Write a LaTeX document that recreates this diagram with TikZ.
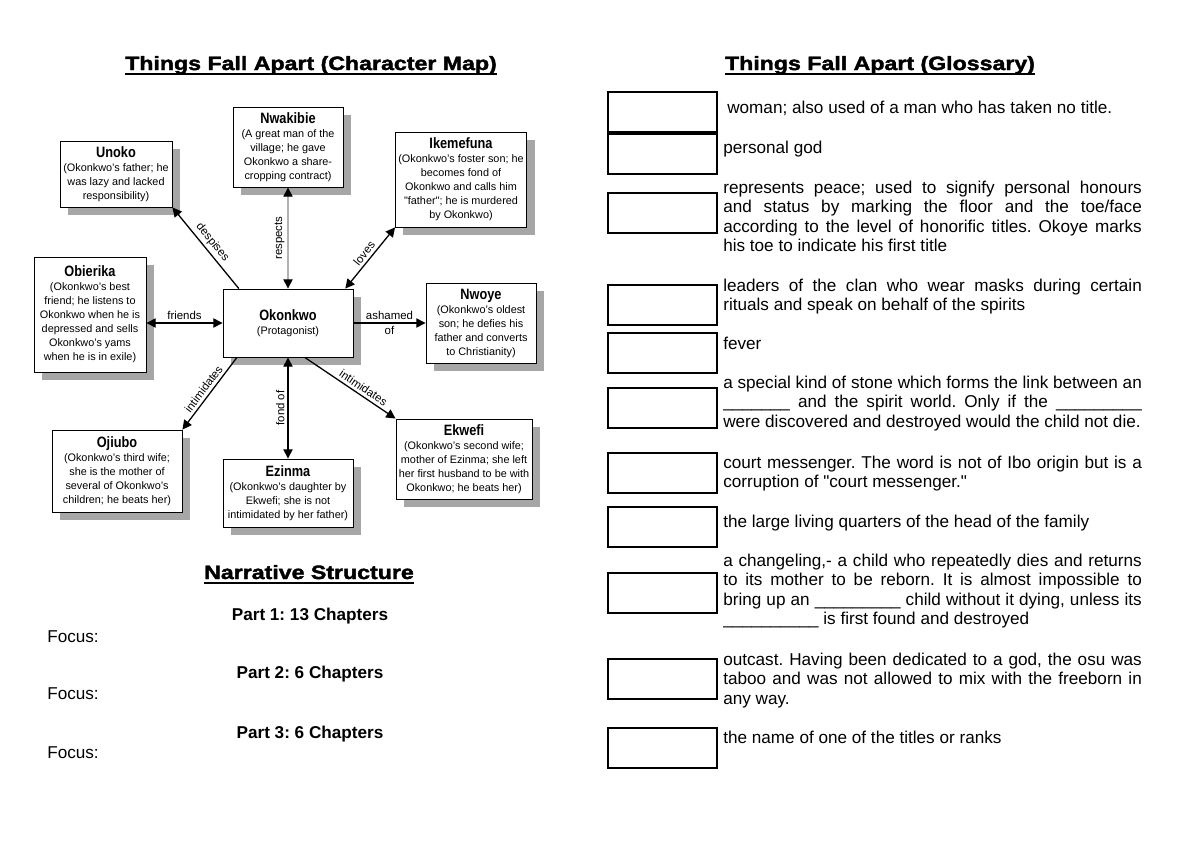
\documentclass[tikz,border=0pt]{standalone}
\usepackage{fontspec}
\setmainfont{Liberation Sans}
\newfontfamily\mapfont{Liberation Sans}
\newfontfamily\namefont[FakeStretch=0.85]{Liberation Sans}
\newfontfamily\headfont[FakeStretch=1.2,FakeBold=2]{Liberation Sans}
\usetikzlibrary{arrows.meta,positioning,calc,shadows}
\newcommand{\cname}[1]{{\namefont\bfseries\fontsize{10.5}{11}\selectfont #1}}
\hbadness=10000
\frenchspacing

\begin{document}
\begin{tikzpicture}[
    x=0.7pt, y=-0.7pt,
    charbox/.style={rectangle, draw, fill=white, line width=0.6pt, align=center, inner sep=2pt,
        font=\mapfont\fontsize{7.6}{9.8}\selectfont,
        drop shadow={shadow xshift=5.6pt, shadow yshift=-5.6pt, fill=black!35, opacity=1}},
    rel/.style={draw, line width=0.9pt, >={Triangle[length=6.5pt,width=6.5pt]}},
    rellabel/.style={font=\mapfont\fontsize{8}{9}\selectfont, midway, sloped, above, inner sep=2pt},
    blank/.style={rectangle, draw, line width=1.4pt, minimum width=76pt, minimum height=28pt},
    gloss/.style={anchor=base west, text width=293pt, align=justify, inner sep=0pt,
        font=\fontsize{12}{13.7}\selectfont},
    heading/.style={font=\headfont\bfseries\fontsize{13.5}{15}\selectfont, inner sep=0pt, anchor=base},
    part/.style={font=\bfseries\fontsize{12}{14}\selectfont, inner sep=0pt, anchor=base},
    focus/.style={font=\fontsize{12}{14}\selectfont, inner sep=0pt, anchor=base west}
]
\useasboundingbox (0,0) rectangle (1200,848);

% Character map (left side)
\node[heading] (maptitle) at (311,70) {Things Fall Apart (Character Map)};
\draw[line width=1.4pt] ([yshift=-2.8pt]maptitle.base west) -- ([yshift=-2.8pt]maptitle.base east);

\node[charbox, minimum width=78.4pt, minimum height=46.2pt] (unoko) at (116,174)
    {\cname{Unoko}\\(Okonkwo’s father; he\\was lazy and lacked\\responsibility)};
\node[charbox, minimum width=77pt, minimum height=56pt] (nwakibie) at (288,147)
    {\cname{Nwakibie}\\(A great man of the\\village; he gave\\Okonkwo a share-\\cropping contract)};
\node[charbox, minimum width=91pt, minimum height=66.5pt] (ikemefuna) at (461,179.5)
    {\cname{Ikemefuna}\\(Okonkwo’s foster son; he\\becomes fond of\\Okonkwo and calls him\\\textquotedbl father\textquotedbl; he is murdered\\by Okonkwo)};
\node[charbox, minimum width=78.4pt, minimum height=80.5pt] (obierika) at (90,314.5)
    {\cname{Obierika}\\(Okonkwo’s best\\friend; he listens to\\Okonkwo when he is\\depressed and sells\\Okonkwo’s yams\\when he is in exile)};
\node[charbox, minimum width=91pt, minimum height=47.6pt] (okonkwo) at (288,323)
    {\cname{Okonkwo}\\(Protagonist)};
\node[charbox, minimum width=77pt, minimum height=56pt] (nwoye) at (481,323)
    {\cname{Nwoye}\\(Okonkwo’s oldest\\son; he defies his\\father and converts\\to Christianity)};
\node[charbox, minimum width=91pt, minimum height=57.4pt] (ojiubo) at (117,471)
    {\cname{Ojiubo}\\(Okonkwo’s third wife;\\she is the mother of\\several of Okonkwo’s\\children; he beats her)};
\node[charbox, minimum width=91pt, minimum height=47.6pt] (ezinma) at (288,493)
    {\cname{Ezinma}\\(Okonkwo’s daughter by\\Ekwefi; she is not\\intimidated by her father)};
\node[charbox, minimum width=95.2pt, minimum height=56pt] (ekwefi) at (464,459)
    {\cname{Ekwefi}\\(Okonkwo’s second wife;\\mother of Ezinma; she left\\her first husband to be with\\Okonkwo; he beats her)};

% Relations
\draw[rel, ->] (okonkwo.145.8) -- (unoko.south east) node[rellabel] {despises};
\draw[rel, <->, draw=black!30, >={Triangle[length=6.5pt,width=6.5pt,black]}] (okonkwo.north) -- (nwakibie.south) node[rellabel] {respects};
\draw[rel, <->] (okonkwo.31.7) -- (ikemefuna.south west) node[rellabel] {loves};
\draw[rel, <->] (obierika.east |- okonkwo.west) -- (okonkwo.west) node[rellabel] {friends};
\draw[rel, ->] (okonkwo.east) -- (nwoye.west)
    node[rellabel] {ashamed} node[rellabel, above=false, below] {of};
\draw[rel, ->] (okonkwo.214.2) -- (ojiubo.north east) node[rellabel] {intimidates};
\draw[rel, <->] (ezinma.north) -- (okonkwo.south) node[rellabel] {fond of};
\draw[rel, ->] (okonkwo.296.6) -- (ekwefi.north west) node[rellabel, pos=0.6] {intimidates};

% Narrative structure
\node[heading] (narrtitle) at (309,579) {Narrative Structure};
\draw[line width=1.4pt] ([yshift=-2.8pt]narrtitle.base west) -- ([yshift=-2.8pt]narrtitle.base east);
\node[part] (part1) at (310,620) {Part 1: 13 Chapters};
\node[focus] (focus1) at (47,642) {Focus:};
\node[part] (part2) at (310,678) {Part 2: 6 Chapters};
\node[focus] (focus2) at (47,699) {Focus:};
\node[part] (part3) at (310,738) {Part 3: 6 Chapters};
\node[focus] (focus3) at (47,758) {Focus:};

% Glossary (right side)
\node[heading] (glosstitle) at (880,70) {Things Fall Apart (Glossary)};
\draw[line width=1.4pt] ([yshift=-2.8pt]glosstitle.base west) -- ([yshift=-2.8pt]glosstitle.base east);

\foreach \y [count=\i] in {112,153.5,213,304.5,353,407.5,473,527,593,678.5,747.5}
    \node[blank] (g\i) at (662.5,\y) {};

\node[gloss] (t1) at (727,113) {woman; also used of a man who has taken no title.};
\node[gloss] (t2) at (723,153) {personal god};
\node[gloss] (t3) at (723,193) {represents peace; used to signify personal honours\linebreak
    and status by marking the floor and the toe/face\linebreak
    according to the level of honorific titles. Okoye marks\linebreak
    his toe to indicate his first title};
\node[gloss] (t4) at (723,291) {leaders of the clan who wear masks during certain\linebreak
    rituals and speak on behalf of the spirits};
\node[gloss] (t5) at (723,349) {fever};
\node[gloss] (t6) at (723,388) {a special kind of stone which forms the link between an\linebreak
    \_\_\_\_\_\_\_ and the spirit world. Only if the \_\_\_\_\_\_\_\_\_\linebreak
    were discovered and destroyed would the child not die.};
\node[gloss] (t7) at (723,468) {court messenger. The word is not of Ibo origin but is a\linebreak
    corruption of \textquotedbl court messenger.\textquotedbl};
\node[gloss] (t8) at (723,527) {the large living quarters of the head of the family};
\node[gloss] (t9) at (723,566) {a changeling,- a child who repeatedly dies and returns\linebreak
    to its mother to be reborn. It is almost impossible to\linebreak
    bring up an \_\_\_\_\_\_\_\_\_ child without it dying, unless its\linebreak
    \_\_\_\_\_\_\_\_\_\_ is first found and destroyed};
\node[gloss] (t10) at (723,665) {outcast. Having been dedicated to a god, the osu was\linebreak
    taboo and was not allowed to mix with the freeborn in\linebreak
    any way.};
\node[gloss] (t11) at (723,743) {the name of one of the titles or ranks};

\end{tikzpicture}
\end{document}
